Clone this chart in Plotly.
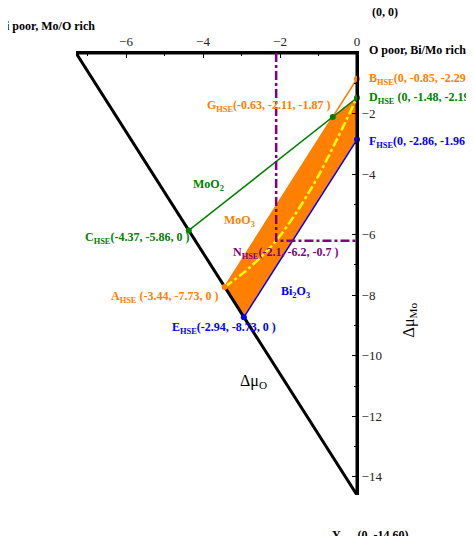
import plotly.graph_objects as go

tri_x = [-7.30, 0, 0, -7.30]
tri_y = [0, 0, -14.60, 0]
A = (-3.44, -7.73); B = (0, -0.85); C = (-4.37, -5.86); D = (0, -1.48)
E = (-2.94, -8.73); F = (0, -2.86); G = (-0.63, -2.11); N = (-2.1, -6.2)
yel_x = [-3.44, -2.8, -2.1, -1.2, -0.5, -0.05]
yel_y = [-7.73, -7.1, -6.2, -4.5, -2.8, -1.6]

ORG = "#ff8000"; GRN = "#008000"; BLU = "#0000ff"; PUR = "#800080"
FONT = "Liberation Serif"
XR = [-7.3, 0.0]; YR = [-14.6, 0.0]

fig = go.Figure()
fig.add_trace(go.Scatter(x=[A[0], G[0], D[0], F[0], E[0], A[0]], y=[A[1], G[1], D[1], F[1], E[1], A[1]],
                         fill="toself", fillcolor=ORG, line=dict(color=ORG, width=0), mode="lines"))
fig.add_trace(go.Scatter(x=tri_x, y=tri_y, mode="lines", line=dict(color="black", width=3), cliponaxis=False))
fig.add_trace(go.Scatter(x=[A[0], G[0], B[0]], y=[A[1], G[1], B[1]], mode="lines", line=dict(color=ORG, width=1.5)))
fig.add_trace(go.Scatter(x=[C[0], G[0], D[0]], y=[C[1], G[1], D[1]], mode="lines", line=dict(color=GRN, width=1.5)))
fig.add_trace(go.Scatter(x=[E[0], F[0]], y=[E[1], F[1]], mode="lines", line=dict(color=BLU, width=1.5)))
fig.add_trace(go.Scatter(x=yel_x, y=yel_y, mode="lines", line=dict(color="#ffff00", width=2.5, dash="dashdot", shape="spline")))
fig.add_trace(go.Scatter(x=[N[0], N[0], 0], y=[0, N[1], N[1]], mode="lines", line=dict(color=PUR, width=2.5, dash="dashdot")))
for p, c in [(A, ORG), (B, ORG), (G, GRN), (C, GRN), (D, GRN), (E, BLU), (F, BLU)]:
    fig.add_trace(go.Scatter(x=[p[0]], y=[p[1]], mode="markers", marker=dict(color=c, size=6), cliponaxis=False))

def ann(x, y, text, color, xanchor="left", size=12, angle=0):
    fig.add_annotation(x=(x - XR[0]) / (XR[1] - XR[0]), y=(y - YR[0]) / (YR[1] - YR[0]),
                       xref="paper", yref="paper", text=text, showarrow=False, xanchor=xanchor,
                       yanchor="middle", textangle=angle,
                       font=dict(family=FONT, size=size, color=color))

ann(0.25, -0.85, "<b>B<sub>HSE</sub>(0, -0.85, -2.29 )</b>", ORG)
ann(0.25, -1.48, "<b>D<sub>HSE</sub> (0, -1.48, -2.19 )</b>", GRN)
ann(0.25, -2.95, "<b>F<sub>HSE</sub>(0, -2.86, -1.96 )</b>", BLU)
ann(-0.65, -1.75, "<b>G<sub>HSE</sub>(-0.63, -2.11, -1.87 )</b>", ORG, "right")
ann(-4.3, -6.1, "<b>C<sub>HSE</sub>(-4.37, -5.86, 0 )</b>", GRN, "right")
ann(-3.55, -8.05, "<b>A<sub>HSE</sub> (-3.44, -7.73, 0 )</b>", ORG, "right")
ann(-2.05, -9.1, "<b>E<sub>HSE</sub>(-2.94, -8.73, 0 )</b>", BLU, "right")
ann(-0.45, -6.6, "<b>N<sub>HSE</sub>(-2.1, -6.2, -0.7 )</b>", PUR, "right")
ann(-3.87, -4.35, "<b>MoO<sub>2</sub></b>", GRN, "center")
ann(-3.05, -5.55, "<b>MoO<sub>3</sub></b>", ORG, "center")
ann(-1.6, -7.9, "<b>Bi<sub>2</sub>O<sub>3</sub></b>", BLU, "center")
ann(-6.7, 1.9, "<b>X<sub>HSE</sub>( -7.30, 0)</b>", "black", "center")
ann(-6.75, 0.9, "<b>Bi poor, Mo/O rich</b>", "black", "right")
ann(0.35, 1.35, "<b>(0, 0)</b>", "black")
ann(0.25, 0.1, "<b>O poor, Bi/Mo rich</b>", "black")
ann(0.35, -15.95, "<b>Y<sub>HSE</sub>(0, -14.60)</b>", "black", "center")
ann(0.35, -16.85, "<b>Mo poor, Bi/O rich</b>", "black", "center")
ann(-2.7, -10.85, "Δμ<sub>O</sub>", "black", "center", size=16)
ann(-2.0, 2.1, "Δμ<sub>Bi</sub>", "black", "center", size=16)
ann(1.35, -8.8, "Δμ<sub>Mo</sub>", "black", "center", size=16, angle=-90)

fig.update_layout(width=474, height=536, margin=dict(l=68, r=125, t=45, b=49),
                  plot_bgcolor="white", paper_bgcolor="white", showlegend=False,
                  font=dict(family=FONT, size=13, color="#222"))
fig.update_xaxes(range=XR, side="top", tickvals=[-6, -4, -2, 0], ticks="inside", ticklen=5,
                 showline=True, linecolor="black", linewidth=2, showgrid=False, zeroline=False,
                 minor=dict(dtick=1, ticks="inside", ticklen=3, tickcolor="black"), tickcolor="black")
fig.update_yaxes(range=YR, side="right", tickvals=[-2, -4, -6, -8, -10, -12, -14], ticks="inside", ticklen=5,
                 showline=True, linecolor="black", linewidth=2, showgrid=False, zeroline=False,
                 minor=dict(dtick=1, ticks="inside", ticklen=3, tickcolor="black"), tickcolor="black")
fig.write_html("out.html")
